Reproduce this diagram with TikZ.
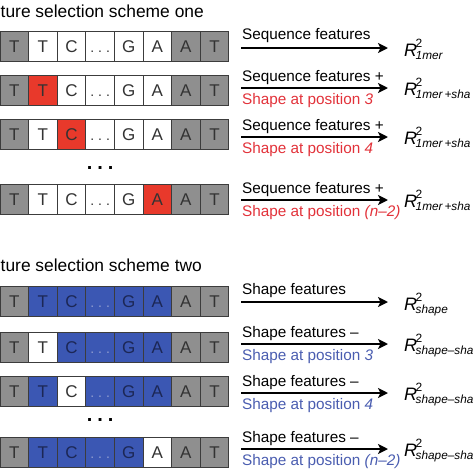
\documentclass[tikz,border=0pt]{standalone}
\usepackage{fontspec}
\setmainfont{Liberation Sans}
\usetikzlibrary{arrows.meta}
\definecolor{boxgray}{HTML}{8F8F8F}
\definecolor{boxblue}{HTML}{3B57B3}
\definecolor{boxred}{HTML}{E8392B}
\definecolor{txtred}{HTML}{E2323A}
\definecolor{txtblue}{HTML}{4A5DB0}
\definecolor{edgegray}{HTML}{3C3C3C}
\definecolor{navy}{HTML}{1C2755}
\newcommand{\gapdots}{{\fontsize{14}{14}\selectfont .\kern4pt.\kern4pt.}}
\newcommand{\rsq}[1]{{\fontsize{18}{18}\selectfont\textit{R}}\kern-1.5pt\rlap{\raisebox{8.5pt}{\fontsize{12}{12}\selectfont 2}}\raisebox{-3pt}{\fontsize{11.8}{11.8}\selectfont\itshape #1}}
\begin{document}
\begin{tikzpicture}[x=1pt,y=-1pt,
  nt/.style={draw=edgegray, line width=0.8pt, minimum width=28.6pt, minimum height=30pt, inner sep=0pt, text height=12.2pt, text depth=0pt, font=\fontsize{17}{17}\selectfont},
  gnt/.style={nt, fill=boxgray, text=black!80},
  wnt/.style={nt, fill=white, text=black!80},
  rnt/.style={nt, fill=boxred, text=black!80},
  bnt/.style={nt, fill=boxblue, text=navy},
  ttl/.style={anchor=base west, inner sep=0pt, font=\fontsize{17.4}{17.4}\selectfont},
  lab/.style={anchor=base west, inner sep=0pt, font=\fontsize{15.3}{15.3}\selectfont},
  rlab/.style={anchor=base west, inner sep=0pt},
  arr/.style={-{Stealth[length=10pt,width=10pt,inset=2.5pt]}, line width=2.2pt},
  vdots/.style={inner sep=0pt, font=\fontsize{20}{20}\selectfont\bfseries}]
\useasboundingbox (0,0) rectangle (474,474);
\clip (0,0) rectangle (474,474);
% scheme one
\node[ttl] (ttl1) at (0.5,17) {ture selection scheme one};
\node[gnt] (s1n0) at (14.3,46){T};
\node[wnt] (s1n1) at (42.9,46){T};
\node[wnt] (s1n2) at (71.5,46){C};
\node[wnt] (s1n3) at (100.1,46){\gapdots};
\node[wnt] (s1n4) at (128.7,46){G};
\node[wnt] (s1n5) at (157.3,46){A};
\node[gnt] (s1n6) at (185.9,46){A};
\node[gnt] (s1n7) at (214.5,46){T};
\node[gnt] (s2n0) at (14.3,90){T};
\node[rnt] (s2n1) at (42.9,90){T};
\node[wnt] (s2n2) at (71.5,90){C};
\node[wnt] (s2n3) at (100.1,90){\gapdots};
\node[wnt] (s2n4) at (128.7,90){G};
\node[wnt] (s2n5) at (157.3,90){A};
\node[gnt] (s2n6) at (185.9,90){A};
\node[gnt] (s2n7) at (214.5,90){T};
\node[gnt] (s3n0) at (14.3,134.5){T};
\node[wnt] (s3n1) at (42.9,134.5){T};
\node[rnt] (s3n2) at (71.5,134.5){C};
\node[wnt] (s3n3) at (100.1,134.5){\gapdots};
\node[wnt] (s3n4) at (128.7,134.5){G};
\node[wnt] (s3n5) at (157.3,134.5){A};
\node[gnt] (s3n6) at (185.9,134.5){A};
\node[gnt] (s3n7) at (214.5,134.5){T};
\node[vdots] (sdots) at (100.1,168){.\kern5pt.\kern5pt.};
\node[gnt] (s4n0) at (14.3,199){T};
\node[wnt] (s4n1) at (42.9,199){T};
\node[wnt] (s4n2) at (71.5,199){C};
\node[wnt] (s4n3) at (100.1,199){\gapdots};
\node[wnt] (s4n4) at (128.7,199){G};
\node[rnt] (s4n5) at (157.3,199){A};
\node[gnt] (s4n6) at (185.9,199){A};
\node[gnt] (s4n7) at (214.5,199){T};
\coordinate (sa1) at (241,48);
\coordinate (sb1) at (388,48);
\draw[arr] (sa1) -- (sb1);
\node[lab] (sl1) at (242,39){Sequence features};
\node[rlab] (sr1) at (404,56){\rsq{1mer}};
\coordinate (sa2) at (241,88);
\coordinate (sb2) at (388,88);
\draw[arr] (sa2) -- (sb2);
\node[lab] (sl2) at (242,81){Sequence features +};
\node[lab, text=txtred] (sp2) at (242,104){Shape at position \textit{3}};
\node[rlab] (sr2) at (404,95){\rsq{1mer\kern2pt+sha}};
\coordinate (sa3) at (241,137);
\coordinate (sb3) at (388,137);
\draw[arr] (sa3) -- (sb3);
\node[lab] (sl3) at (242,130){Sequence features +};
\node[lab, text=txtred] (sp3) at (242,153){Shape at position \textit{4}};
\node[rlab] (sr3) at (404,144){\rsq{1mer\kern2pt+sha}};
\coordinate (sa4) at (241,200);
\coordinate (sb4) at (388,200);
\draw[arr] (sa4) -- (sb4);
\node[lab] (sl4) at (242,193){Sequence features +};
\node[lab, text=txtred] (sp4) at (242,216){Shape at position \textit{(n–2)}};
\node[rlab] (sr4) at (404,207){\rsq{1mer\kern2pt+sha}};
% scheme two
\node[ttl] (ttl2) at (0.5,271) {ture selection scheme two};
\node[gnt] (t1n0) at (14.3,301.5){T};
\node[bnt] (t1n1) at (42.9,301.5){T};
\node[bnt] (t1n2) at (71.5,301.5){C};
\node[bnt] (t1n3) at (100.1,301.5){\textcolor{txtblue!60}{\gapdots}};
\node[bnt] (t1n4) at (128.7,301.5){G};
\node[bnt] (t1n5) at (157.3,301.5){A};
\node[gnt] (t1n6) at (185.9,301.5){A};
\node[gnt] (t1n7) at (214.5,301.5){T};
\node[gnt] (t2n0) at (14.3,347){T};
\node[wnt] (t2n1) at (42.9,347){T};
\node[bnt] (t2n2) at (71.5,347){C};
\node[bnt] (t2n3) at (100.1,347){\textcolor{txtblue!60}{\gapdots}};
\node[bnt] (t2n4) at (128.7,347){G};
\node[bnt] (t2n5) at (157.3,347){A};
\node[gnt] (t2n6) at (185.9,347){A};
\node[gnt] (t2n7) at (214.5,347){T};
\node[gnt] (t3n0) at (14.3,391){T};
\node[bnt] (t3n1) at (42.9,391){T};
\node[wnt] (t3n2) at (71.5,391){C};
\node[bnt] (t3n3) at (100.1,391){\textcolor{txtblue!60}{\gapdots}};
\node[bnt] (t3n4) at (128.7,391){G};
\node[bnt] (t3n5) at (157.3,391){A};
\node[gnt] (t3n6) at (185.9,391){A};
\node[gnt] (t3n7) at (214.5,391){T};
\node[vdots] (tdots) at (100.1,420){.\kern5pt.\kern5pt.};
\node[gnt] (t4n0) at (14.3,452){T};
\node[bnt] (t4n1) at (42.9,452){T};
\node[bnt] (t4n2) at (71.5,452){C};
\node[bnt] (t4n3) at (100.1,452){\textcolor{txtblue!60}{\gapdots}};
\node[bnt] (t4n4) at (128.7,452){G};
\node[wnt] (t4n5) at (157.3,452){A};
\node[gnt] (t4n6) at (185.9,452){A};
\node[gnt] (t4n7) at (214.5,452){T};
\coordinate (ta1) at (241,302);
\coordinate (tb1) at (388,302);
\draw[arr] (ta1) -- (tb1);
\node[lab] (tl1) at (242,294){Shape features};
\node[rlab] (tr1) at (404,310){\rsq{shape}};
\coordinate (ta2) at (241,344);
\coordinate (tb2) at (388,344);
\draw[arr] (ta2) -- (tb2);
\node[lab] (tl2) at (242,337){Shape features –};
\node[lab, text=txtblue] (tp2) at (242,360){Shape at position \textit{3}};
\node[rlab] (tr2) at (404,351){\rsq{shape–sha}};
\coordinate (ta3) at (241,393);
\coordinate (tb3) at (388,393);
\draw[arr] (ta3) -- (tb3);
\node[lab] (tl3) at (242,386){Shape features –};
\node[lab, text=txtblue] (tp3) at (242,409){Shape at position \textit{4}};
\node[rlab] (tr3) at (404,400){\rsq{shape–sha}};
\coordinate (ta4) at (241,449);
\coordinate (tb4) at (388,449);
\draw[arr] (ta4) -- (tb4);
\node[lab] (tl4) at (242,442){Shape features –};
\node[lab, text=txtblue] (tp4) at (242,465){Shape at position \textit{(n–2)}};
\node[rlab] (tr4) at (404,456){\rsq{shape–sha}};
\end{tikzpicture}
\end{document}
